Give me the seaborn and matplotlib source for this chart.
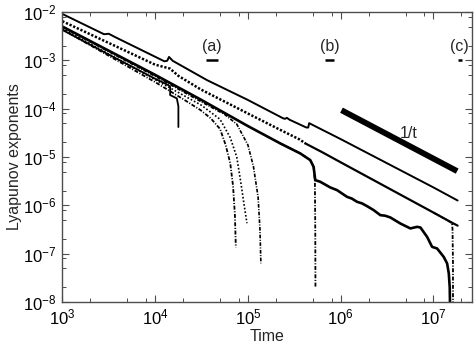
import numpy as np
import pandas as pd
import matplotlib
matplotlib.use("Agg")
import matplotlib.pyplot as plt
import seaborn as sns
from matplotlib.ticker import LogLocator, NullFormatter

# ---- data (log10 time, log10 exponent) ----
top_lt = [3.00, 3.45, 3.50, 3.57, 4.10, 4.13, 4.15, 4.19, 4.56, 5.00, 5.38, 5.40, 5.42, 5.45,
          5.63, 5.65, 5.66, 6.00, 6.50, 7.00, 7.26]
top_ly = [-2.04, -2.46, -2.45, -2.52, -3.02, -3.01, -2.93, -3.01, -3.41, -3.82, -4.20, -4.21,
          -4.19, -4.23, -4.39, -4.39, -4.30, -4.63, -5.13, -5.63, -5.90]

tri_lt = [3.00, 3.50, 4.00, 4.16, 4.25, 4.49, 5.00, 5.35, 5.56, 5.62]
tri_ly = [-2.19, -2.64, -3.09, -3.17, -3.32, -3.60, -4.10, -4.44, -4.64, -4.72]

mid_lt = [5.62, 5.80, 6.00, 6.25, 6.50, 6.75, 7.00, 7.20, 7.26]
mid_ly = [-4.72, -4.90, -5.11, -5.37, -5.63, -5.89, -6.15, -6.36, -6.42]

mid_drop_lt = [7.00, 7.15, 7.20, 7.205, 7.21, 7.21]
mid_drop_ly = [-6.15, -6.31, -6.37, -6.50, -7.20, -8.30]

low_lt = [3.00, 3.50, 4.00, 4.49, 5.00, 5.348, 5.564, 5.672, 5.708, 5.726, 5.780, 5.888, 5.960,
          6.068, 6.120, 6.176, 6.230, 6.284, 6.355, 6.427, 6.480, 6.535, 6.643, 6.751, 6.823,
          6.859, 6.931, 6.985, 7.039, 7.110, 7.147, 7.165, 7.175, 7.182]
low_ly = [-2.30, -2.80, -3.30, -3.81, -4.36, -4.718, -4.926, -5.064, -5.203, -5.478, -5.513,
          -5.630, -5.685, -5.824, -5.860, -5.927, -5.960, -6.017, -6.099, -6.203, -6.215, -6.251,
          -6.376, -6.478, -6.445, -6.458, -6.652, -6.859, -6.893, -7.066, -7.203, -7.410, -7.700,
          -8.500]

low_drop_lt = [5.348, 5.564, 5.672, 5.708, 5.722, 5.726, 5.728]
low_drop_ly = [-4.718, -4.926, -5.064, -5.203, -5.500, -6.500, -7.690]

step_lt = [3.00, 3.50, 4.00, 4.14, 4.162, 4.162, 4.234, 4.251, 4.251]
step_ly = [-2.37, -2.88, -3.38, -3.51, -3.546, -3.718, -3.787, -3.950, -4.380]

d1_lt = [3.00, 4.00, 4.30, 4.49, 4.60, 4.70, 4.76, 4.81, 4.84, 4.86, 4.87]
d1_ly = [-2.36, -3.45, -3.80, -4.03, -4.20, -4.42, -4.75, -5.13, -5.60, -6.20, -6.87]
d2_lt = [3.00, 4.00, 4.50, 4.70, 4.81, 4.88, 4.92, 4.96, 4.99]
d2_ly = [-2.34, -3.40, -3.93, -4.22, -4.60, -5.00, -5.48, -6.00, -6.37]
d3_lt = [3.00, 4.00, 4.50, 4.75, 4.88, 5.00, 5.06, 5.11, 5.13, 5.14]
d3_ly = [-2.31, -3.33, -3.86, -4.12, -4.32, -4.75, -5.20, -5.83, -6.50, -7.20]

ref_t = [1.02e6, 1.8e7]
ref_y = [9.3e-5, 5.1e-6]

win_labels = ["(a)", "(b)", "(c)"]
win_start = [3.55e4, 6.8e5, 1.83e7]
win_end = [4.8e4, 8.4e5, 2.01e7]
win_y = 1.0e-3

# ---- figure ----
sns.set_theme(style="ticks")
plt.rcParams["font.family"] = ["Liberation Sans", "DejaVu Sans"]
plt.rcParams["mathtext.fontset"] = "custom"
plt.rcParams["mathtext.rm"] = "Liberation Sans"
plt.rcParams["mathtext.it"] = "Liberation Sans:italic"

fig = plt.figure(figsize=(4.74, 3.5), dpi=100)
ax = fig.add_axes([62.3 / 474, 1 - 302 / 350, (472 - 62.3) / 474, (302 - 12) / 350])


def draw(lt, ly, **kw):
    x = 10 ** np.asarray(lt, dtype=float)
    y = 10 ** np.asarray(ly, dtype=float)
    sns.lineplot(x=x, y=y, ax=ax, sort=False, estimator=None, color="black", **kw)


dashdot = (0, (2.2, 0.9, 0.6, 0.9))
draw(d1_lt, d1_ly, lw=1.3, linestyle=dashdot)
draw(d2_lt, d2_ly, lw=1.2, linestyle=(0, (1.0, 1.2)))
draw(d3_lt, d3_ly, lw=1.2, linestyle=dashdot)
draw(low_drop_lt, low_drop_ly, lw=1.3, linestyle=dashdot)
draw(mid_drop_lt, mid_drop_ly, lw=1.3, linestyle=dashdot)
draw(low_lt, low_ly, lw=1.9)
draw(step_lt, step_ly, lw=1.3)
draw(tri_lt, tri_ly, lw=1.8, linestyle=(0, (0.9, 0.7)))
draw(mid_lt, mid_ly, lw=1.6)
draw(top_lt, top_ly, lw=1.4)

sns.lineplot(x=ref_t, y=ref_y, ax=ax, color="black", lw=4.2, solid_capstyle="butt")
ax.text(10 ** 6.729, 10 ** -4.505, "1/t", fontsize=11.5, ha="center", va="center")

for lab, s, e in zip(win_labels, win_start, win_end):
    sns.lineplot(x=[s, e], y=[win_y, win_y], ax=ax, color="black", lw=1.8, solid_capstyle="butt")
    ax.text(np.sqrt(s * e), 10 ** -2.72, lab, fontsize=11.5, ha="center", va="center")

ax.set_xscale("log")
ax.set_yscale("log")
ax.set_xlim(1e3, 2.6e7)
ax.set_ylim(1e-8, 1e-2)
ax.xaxis.set_major_locator(LogLocator(base=10, numticks=20))
ax.yaxis.set_major_locator(LogLocator(base=10, numticks=20))
ax.xaxis.set_minor_locator(LogLocator(base=10, subs=(2, 5, 8), numticks=20))
ax.yaxis.set_minor_locator(LogLocator(base=10, subs=(2, 5, 8), numticks=20))
ax.xaxis.set_minor_formatter(NullFormatter())
ax.yaxis.set_minor_formatter(NullFormatter())
ax.tick_params(which="both", direction="in", top=True, right=True, colors="0.3",
               labelcolor="black", labelsize=12)
ax.tick_params(which="major", length=5, width=0.8, pad=4)
ax.tick_params(which="minor", length=3, width=0.7)
for sp in ax.spines.values():
    sp.set_color("0.3")
    sp.set_linewidth(1.0)

ax.set_xlabel("Time", fontsize=11.5, labelpad=1)
ax.set_ylabel("Lyapunov exponents", fontsize=11.5, labelpad=1)

fig.savefig("out.png", dpi=100)
